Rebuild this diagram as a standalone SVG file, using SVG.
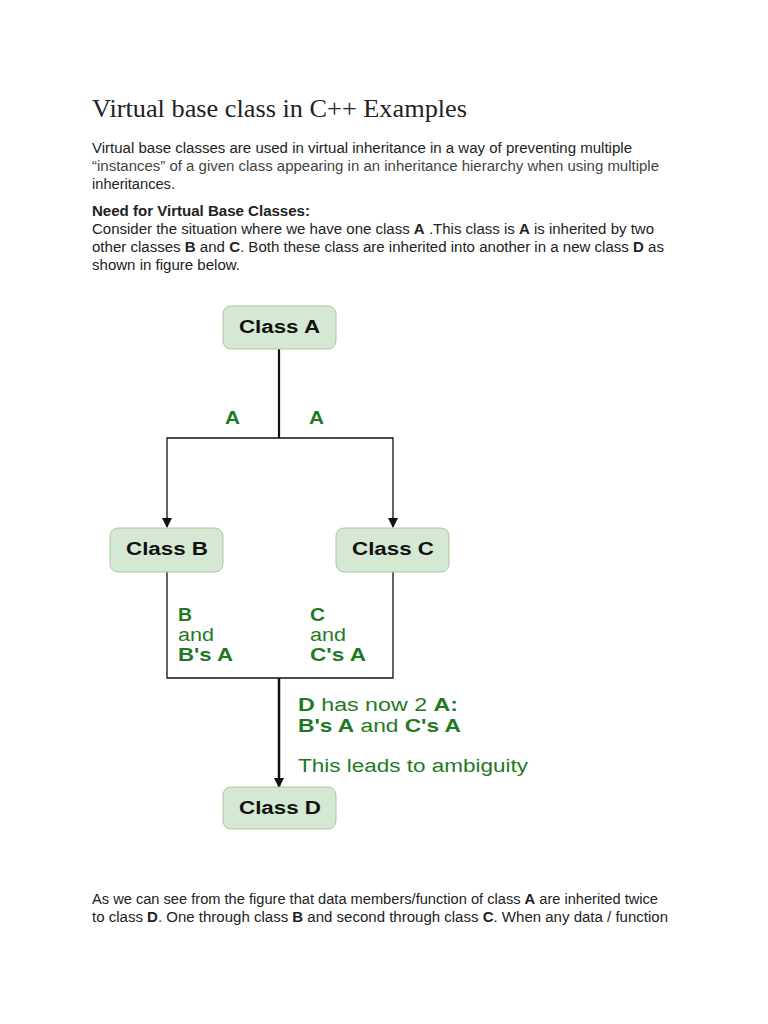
<svg xmlns="http://www.w3.org/2000/svg" width="768" height="1024" viewBox="0 0 768 1024">
<style>
.p{font-family:"Liberation Sans",Arial,sans-serif;font-size:14px;fill:#222}
.b{font-weight:bold}
.box{fill:#d5e8d4;stroke:#a9c99b;stroke-width:1}
.bt{font-family:"Liberation Sans",Arial,sans-serif;font-size:18px;font-weight:bold;fill:#111}
.g{font-family:"Liberation Sans",Arial,sans-serif;font-size:18px;fill:#1f7a1f}
.ln{fill:none;stroke:#111}
</style>
<defs>
<marker id="ah" markerWidth="10" markerHeight="10" refX="9" refY="5" orient="auto" markerUnits="userSpaceOnUse">
<path d="M0,0 L10,5 L0,10 Z" fill="#111"/>
</marker>
</defs>
<rect width="768" height="1024" fill="#fff"/>
<text x="92" y="117" font-family="Liberation Serif,serif" font-size="26" fill="#222" textLength="375" lengthAdjust="spacingAndGlyphs">Virtual base class in C++ Examples</text>
<text class="p" x="92" y="153" textLength="540" lengthAdjust="spacingAndGlyphs">Virtual base classes are used in virtual inheritance in a way of preventing multiple</text>
<text class="p" x="92" y="171" style="fill:#444" textLength="567" lengthAdjust="spacingAndGlyphs">“instances” of a given class appearing in an inheritance hierarchy when using multiple</text>
<text class="p" x="92" y="189" textLength="83" lengthAdjust="spacingAndGlyphs">inheritances.</text>
<text class="p b" x="92" y="216" textLength="218" lengthAdjust="spacingAndGlyphs">Need for Virtual Base Classes:</text>
<text class="p" x="92" y="234" textLength="562" lengthAdjust="spacingAndGlyphs">Consider the situation where we have one class <tspan class="b">A</tspan> .This class is <tspan class="b">A</tspan> is inherited by two</text>
<text class="p" x="92" y="252" textLength="572" lengthAdjust="spacingAndGlyphs">other classes <tspan class="b">B</tspan> and <tspan class="b">C</tspan>. Both these class are inherited into another in a new class <tspan class="b">D</tspan> as</text>
<text class="p" x="92" y="270" textLength="148" lengthAdjust="spacingAndGlyphs">shown in figure below.</text>

<g id="connectors">
<path class="ln" d="M279,349 V438" stroke-width="2.2"/>
<path class="ln" d="M279,438 H167 V527" stroke-width="1.3" marker-end="url(#ah)"/>
<path class="ln" d="M279,438 H393 V527" stroke-width="1.3" marker-end="url(#ah)"/>
<path class="ln" d="M167,572 V678 H393 V572" stroke-width="1.3"/>
<path class="ln" d="M279,678 V787" stroke-width="2.5" marker-end="url(#ah)"/>
</g>
<g id="labels">
<text class="g b" x="225" y="424" textLength="15" lengthAdjust="spacingAndGlyphs">A</text>
<text class="g b" x="309" y="424" textLength="15" lengthAdjust="spacingAndGlyphs">A</text>
<text class="g b" x="178" y="621" textLength="14" lengthAdjust="spacingAndGlyphs">B</text>
<text class="g" x="178" y="641" textLength="36" lengthAdjust="spacingAndGlyphs">and</text>
<text class="g b" x="178" y="661" textLength="55" lengthAdjust="spacingAndGlyphs">B's A</text>
<text class="g b" x="310" y="621" textLength="15" lengthAdjust="spacingAndGlyphs">C</text>
<text class="g" x="310" y="641" textLength="36" lengthAdjust="spacingAndGlyphs">and</text>
<text class="g b" x="310" y="661" textLength="56" lengthAdjust="spacingAndGlyphs">C's A</text>
<text class="g" x="298" y="711" textLength="160" lengthAdjust="spacingAndGlyphs"><tspan class="b">D</tspan>  has now 2 <tspan class="b">A:</tspan></text>
<text class="g" x="298" y="732" textLength="163" lengthAdjust="spacingAndGlyphs"><tspan class="b">B's A</tspan> and <tspan class="b">C's A</tspan></text>
<text class="g" x="298" y="772" textLength="230" lengthAdjust="spacingAndGlyphs">This leads to ambiguity</text>
</g>
<g id="classA"><rect class="box" x="223" y="306" width="113" height="43" rx="8"/><text class="bt" x="239" y="333" textLength="81" lengthAdjust="spacingAndGlyphs">Class A</text></g>
<g id="classB"><rect class="box" x="110" y="528" width="113" height="44" rx="8"/><text class="bt" x="126" y="555" textLength="82" lengthAdjust="spacingAndGlyphs">Class B</text></g>
<g id="classC"><rect class="box" x="336" y="528" width="113" height="44" rx="8"/><text class="bt" x="352" y="555" textLength="82" lengthAdjust="spacingAndGlyphs">Class C</text></g>
<g id="classD"><rect class="box" x="223" y="787" width="113" height="42" rx="8"/><text class="bt" x="239" y="814" textLength="82" lengthAdjust="spacingAndGlyphs">Class D</text></g>

<text class="p" x="92" y="904" textLength="566" lengthAdjust="spacingAndGlyphs">As we can see from the figure that data members/function of class <tspan class="b">A</tspan> are inherited twice</text>
<text class="p" x="92" y="922" textLength="576" lengthAdjust="spacingAndGlyphs">to class <tspan class="b">D</tspan>. One through class <tspan class="b">B</tspan> and second through class <tspan class="b">C</tspan>. When any data / function</text>
</svg>
